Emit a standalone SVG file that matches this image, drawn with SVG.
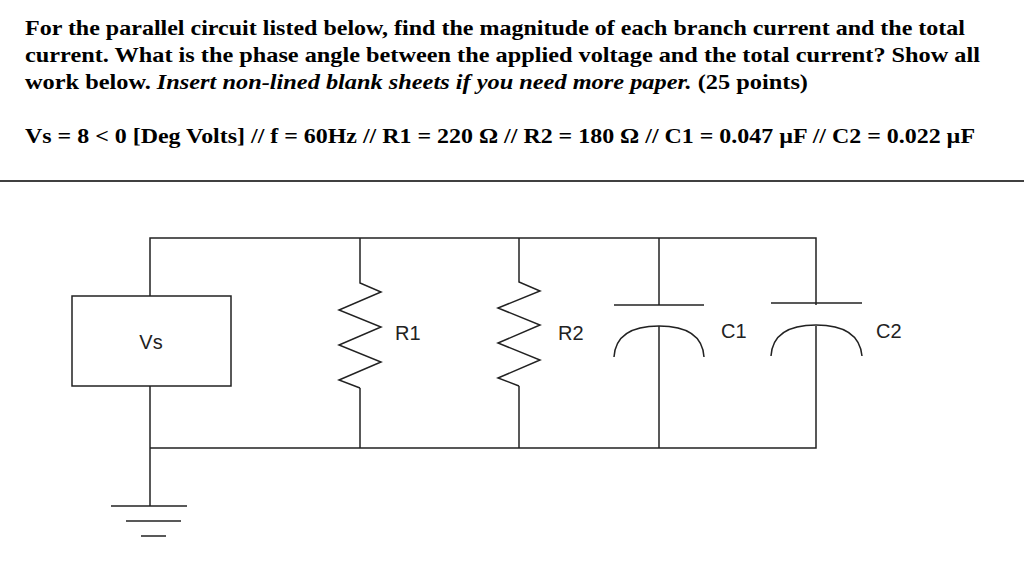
<svg xmlns="http://www.w3.org/2000/svg" width="1024" height="575" viewBox="0 0 1024 575">
<style>
.t{font-family:"Liberation Serif",serif;font-weight:bold;font-size:21px;fill:#000}
.w{stroke:#222;stroke-width:1.5;fill:none}
.l{font-family:"Liberation Sans",Arial,sans-serif;font-size:20px;fill:#222}
</style>
<rect width="1024" height="575" fill="#fff"/>
<text class="t" x="25" y="35" textLength="940" lengthAdjust="spacingAndGlyphs">For the parallel circuit listed below, find the magnitude of each branch current and the total</text>
<text class="t" x="25" y="62" textLength="955" lengthAdjust="spacingAndGlyphs">current.  What is the phase angle between the applied voltage and the total current?  Show all</text>
<text class="t" x="25" y="89" textLength="783" lengthAdjust="spacingAndGlyphs">work below.  <tspan font-style="italic">Insert non-lined blank sheets if you need more paper.</tspan>  (25 points)</text>
<text class="t" x="25" y="143" textLength="950" lengthAdjust="spacingAndGlyphs">Vs = 8 &lt; 0 [Deg Volts] // f = 60Hz // R1 = 220 Ω // R2 = 180 Ω // C1 = 0.047 µF // C2 = 0.022 µF</text>
<line x1="0" y1="181" x2="1024" y2="181" stroke="#000" stroke-width="1.5"/>
<g id="connectors">
<polyline class="w" points="150,296 150,238 816,238 816,305"/>
<polyline class="w" points="150,386 150,506"/>
<polyline class="w" points="150,448 816,448 816,326"/>
<line class="w" x1="360" y1="238" x2="360" y2="282"/>
<line class="w" x1="360" y1="388" x2="360" y2="448"/>
<line class="w" x1="519" y1="238" x2="519" y2="281"/>
<line class="w" x1="519" y1="386" x2="519" y2="448"/>
<line class="w" x1="659" y1="238" x2="659" y2="305"/>
<line class="w" x1="659" y1="326" x2="659" y2="448"/>
</g>
<g id="Vs">
<rect class="w" x="72" y="296" width="159" height="90"/>
<text class="l" x="151" y="349" text-anchor="middle">Vs</text>
</g>
<g id="ground">
<line class="w" x1="111" y1="506" x2="187" y2="506"/>
<line class="w" x1="126" y1="521" x2="181" y2="521"/>
<line class="w" x1="141" y1="536" x2="166" y2="536"/>
</g>
<g id="R1">
<polyline class="w" points="360,282 360,283 381,292 339,310 381,327 339,345 381,362 339,380 360,388"/>
<text class="l" x="395" y="340">R1</text>
</g>
<g id="R2">
<polyline class="w" points="519,281 519,282 540,291 498,308 540,325 498,343 540,360 498,378 519,386"/>
<text class="l" x="558" y="340">R2</text>
</g>
<g id="C1">
<line class="w" x1="614" y1="305" x2="704" y2="305"/>
<path class="w" d="M614,357 Q616,326 659,326 Q702,326 704,357"/>
<text class="l" x="721" y="338">C1</text>
</g>
<g id="C2">
<line class="w" x1="771" y1="303" x2="862" y2="303"/>
<path class="w" d="M771,356 Q773,325 816,325 Q859,325 862,356"/>
<text class="l" x="876" y="338">C2</text>
</g>
</svg>
